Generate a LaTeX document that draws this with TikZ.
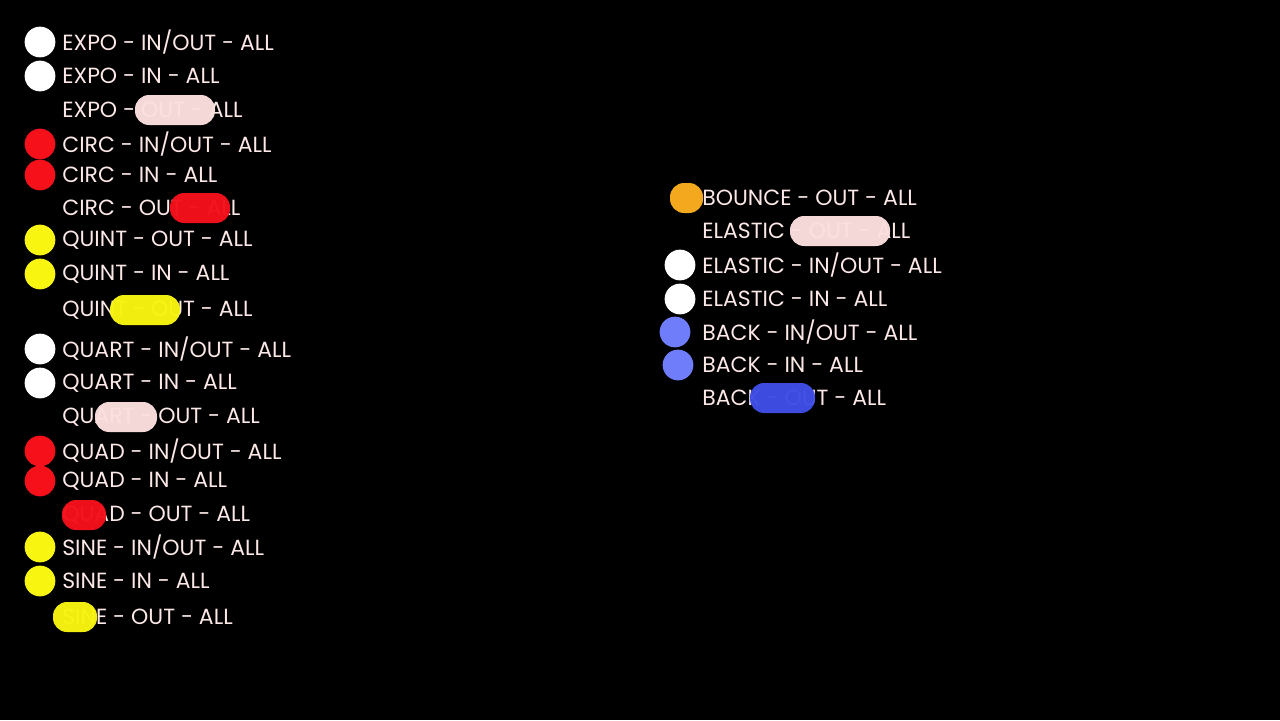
\documentclass[tikz,border=0pt]{standalone}
\usepackage{fontspec}
\setmainfont{Poppins}
\definecolor{txt}{HTML}{FCE8E6}
\definecolor{pinkish}{HTML}{FCE0E0}
\definecolor{redd}{HTML}{F5101A}
\definecolor{yell}{HTML}{F8F510}
\definecolor{oran}{HTML}{FBAE1E}
\definecolor{bluel}{HTML}{6F7DFA}
\definecolor{blued}{HTML}{3F4FE6}
\begin{document}
\begin{tikzpicture}[x=0.02cm,y=-0.02cm,
    lbl/.style={anchor=west,inner sep=0pt,text=txt,font=\fontsize{12.5}{14}\selectfont},
    dot/.style={circle,fill=#1,minimum size=17.5pt,inner sep=0pt},
    blob/.style={rounded corners=8pt,fill=#1,opacity=0.97}]
    \fill[black] (0,0) rectangle (1280,720);
    \useasboundingbox (0,0) rectangle (1280,720);
    % left column
    \foreach \y/\t/\c [count=\i] in {42/EXPO - IN\slash OUT - ALL/white,76/EXPO - IN - ALL/white,
        144/CIRC - IN\slash OUT - ALL/redd,175/CIRC - IN - ALL/redd,
        240/QUINT - OUT - ALL/yell,274/QUINT - IN - ALL/yell,
        349/QUART - IN\slash OUT - ALL/white,383/QUART - IN - ALL/white,
        451/QUAD - IN\slash OUT - ALL/redd,481/QUAD - IN - ALL/redd,
        547/SINE - IN\slash OUT - ALL/yell,581/SINE - IN - ALL/yell}
        {\node[dot=\c] (d\i) at (40,\y) {};
         \node[lbl] (t\i) at (62,\y) {\t};}
    \foreach \y/\t/\c/\a/\b [count=\i] in {110/EXPO - OUT - ALL/pinkish/135/215,
        208/CIRC - OUT - ALL/redd/170/230,310/QUINT - OUT - ALL/yell/110/180,
        417/QUART - OUT - ALL/pinkish/95/157,515/QUAD - OUT - ALL/redd/62/106,
        617/SINE - OUT - ALL/yell/53/97}
        {\node[lbl] (o\i) at (62,\y) {\t};
         \fill[blob=\c] (\a,\y-15) rectangle (\b,\y+15);}
    % right column
    \foreach \y/\t/\c/\x [count=\i] in {265/ELASTIC - IN\slash OUT - ALL/white/680,
        299/ELASTIC - IN - ALL/white/680,332/BACK - IN\slash OUT - ALL/bluel/675,
        365/BACK - IN - ALL/bluel/678}
        {\node[dot=\c] (rd\i) at (\x,\y) {};
         \node[lbl] (rt\i) at (702,\y) {\t};}
    \foreach \y/\t/\c/\a/\b [count=\i] in {198/BOUNCE - OUT - ALL/oran/670/703,
        231/ELASTIC - OUT - ALL/pinkish/790/890,398/BACK - OUT - ALL/blued/750/815}
        {\node[lbl] (ro\i) at (702,\y) {\t};
         \fill[blob=\c] (\a,\y-15) rectangle (\b,\y+15);}
\end{tikzpicture}
\end{document}
